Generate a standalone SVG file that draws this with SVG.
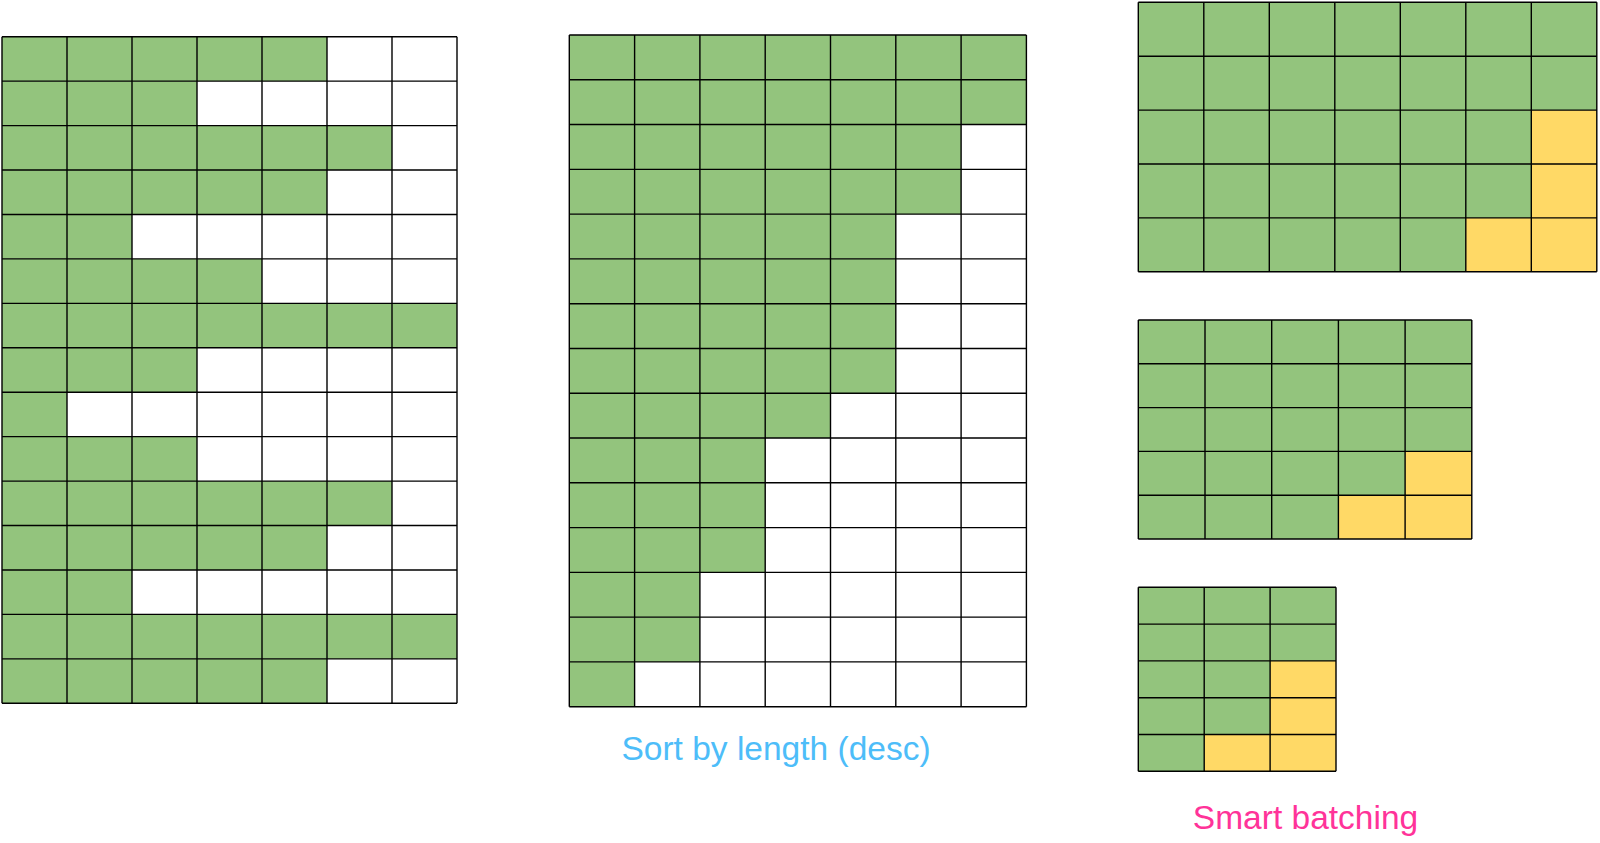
<svg xmlns="http://www.w3.org/2000/svg" width="1600" height="843" viewBox="0 0 1600 843">
<style>
.bg{fill:#ffffff}
.g{fill:#93C47D}
.y{fill:#FFD966}
.ln{fill:none;stroke:#000000;stroke-width:1.4}
.lbl{font-family:"Liberation Sans",Arial,Helvetica,sans-serif;font-size:33.5px;text-anchor:middle}
</style>
<rect width="1600" height="843" fill="#ffffff"/>
<g id="grid-unsorted">
<rect class="bg" x="2" y="36.7" width="455" height="666.6"/>
<rect class="g" x="2" y="36.7" width="325" height="44.44"/>
<rect class="g" x="2" y="81.14" width="195" height="44.44"/>
<rect class="g" x="2" y="125.58" width="390" height="44.44"/>
<rect class="g" x="2" y="170.02" width="325" height="44.44"/>
<rect class="g" x="2" y="214.46" width="130" height="44.44"/>
<rect class="g" x="2" y="258.9" width="260" height="44.44"/>
<rect class="g" x="2" y="303.34" width="455" height="44.44"/>
<rect class="g" x="2" y="347.78" width="195" height="44.44"/>
<rect class="g" x="2" y="392.22" width="65" height="44.44"/>
<rect class="g" x="2" y="436.66" width="195" height="44.44"/>
<rect class="g" x="2" y="481.1" width="390" height="44.44"/>
<rect class="g" x="2" y="525.54" width="325" height="44.44"/>
<rect class="g" x="2" y="569.98" width="130" height="44.44"/>
<rect class="g" x="2" y="614.42" width="455" height="44.44"/>
<rect class="g" x="2" y="658.86" width="325" height="44.44"/>
<path class="ln" d="M2 36.7V703.3M67 36.7V703.3M132 36.7V703.3M197 36.7V703.3M262 36.7V703.3M327 36.7V703.3M392 36.7V703.3M457 36.7V703.3M2 36.7H457M2 81.14H457M2 125.58H457M2 170.02H457M2 214.46H457M2 258.9H457M2 303.34H457M2 347.78H457M2 392.22H457M2 436.66H457M2 481.1H457M2 525.54H457M2 569.98H457M2 614.42H457M2 658.86H457M2 703.3H457"/>
</g>
<g id="grid-sorted">
<rect class="bg" x="569.3" y="35" width="457.1" height="671.7"/>
<rect class="g" x="569.3" y="35" width="457.1" height="44.78"/>
<rect class="g" x="569.3" y="79.78" width="457.1" height="44.78"/>
<rect class="g" x="569.3" y="124.56" width="391.8" height="44.78"/>
<rect class="g" x="569.3" y="169.34" width="391.8" height="44.78"/>
<rect class="g" x="569.3" y="214.12" width="326.5" height="44.78"/>
<rect class="g" x="569.3" y="258.9" width="326.5" height="44.78"/>
<rect class="g" x="569.3" y="303.68" width="326.5" height="44.78"/>
<rect class="g" x="569.3" y="348.46" width="326.5" height="44.78"/>
<rect class="g" x="569.3" y="393.24" width="261.2" height="44.78"/>
<rect class="g" x="569.3" y="438.02" width="195.9" height="44.78"/>
<rect class="g" x="569.3" y="482.8" width="195.9" height="44.78"/>
<rect class="g" x="569.3" y="527.58" width="195.9" height="44.78"/>
<rect class="g" x="569.3" y="572.36" width="130.6" height="44.78"/>
<rect class="g" x="569.3" y="617.14" width="130.6" height="44.78"/>
<rect class="g" x="569.3" y="661.92" width="65.3" height="44.78"/>
<path class="ln" d="M569.3 35V706.7M634.6 35V706.7M699.9 35V706.7M765.2 35V706.7M830.5 35V706.7M895.8 35V706.7M961.1 35V706.7M1026.4 35V706.7M569.3 35H1026.4M569.3 79.78H1026.4M569.3 124.56H1026.4M569.3 169.34H1026.4M569.3 214.12H1026.4M569.3 258.9H1026.4M569.3 303.68H1026.4M569.3 348.46H1026.4M569.3 393.24H1026.4M569.3 438.02H1026.4M569.3 482.8H1026.4M569.3 527.58H1026.4M569.3 572.36H1026.4M569.3 617.14H1026.4M569.3 661.92H1026.4M569.3 706.7H1026.4"/>
</g>
<g id="batch-1">
<rect class="y" x="1138.3" y="2.3" width="458.5" height="269.5"/>
<rect class="g" x="1138.3" y="2.3" width="458.5" height="53.9"/>
<rect class="g" x="1138.3" y="56.2" width="458.5" height="53.9"/>
<rect class="g" x="1138.3" y="110.1" width="393" height="53.9"/>
<rect class="g" x="1138.3" y="164" width="393" height="53.9"/>
<rect class="g" x="1138.3" y="217.9" width="327.5" height="53.9"/>
<path class="ln" d="M1138.3 2.3V271.8M1203.8 2.3V271.8M1269.3 2.3V271.8M1334.8 2.3V271.8M1400.3 2.3V271.8M1465.8 2.3V271.8M1531.3 2.3V271.8M1596.8 2.3V271.8M1138.3 2.3H1596.8M1138.3 56.2H1596.8M1138.3 110.1H1596.8M1138.3 164H1596.8M1138.3 217.9H1596.8M1138.3 271.8H1596.8"/>
</g>
<g id="batch-2">
<rect class="y" x="1138.3" y="320" width="333.5" height="219"/>
<rect class="g" x="1138.3" y="320" width="333.5" height="43.8"/>
<rect class="g" x="1138.3" y="363.8" width="333.5" height="43.8"/>
<rect class="g" x="1138.3" y="407.6" width="333.5" height="43.8"/>
<rect class="g" x="1138.3" y="451.4" width="266.8" height="43.8"/>
<rect class="g" x="1138.3" y="495.2" width="200.1" height="43.8"/>
<path class="ln" d="M1138.3 320V539M1205 320V539M1271.7 320V539M1338.4 320V539M1405.1 320V539M1471.8 320V539M1138.3 320H1471.8M1138.3 363.8H1471.8M1138.3 407.6H1471.8M1138.3 451.4H1471.8M1138.3 495.2H1471.8M1138.3 539H1471.8"/>
</g>
<g id="batch-3">
<rect class="y" x="1138.3" y="587.3" width="197.7" height="184"/>
<rect class="g" x="1138.3" y="587.3" width="197.7" height="36.8"/>
<rect class="g" x="1138.3" y="624.1" width="197.7" height="36.8"/>
<rect class="g" x="1138.3" y="660.9" width="131.8" height="36.8"/>
<rect class="g" x="1138.3" y="697.7" width="131.8" height="36.8"/>
<rect class="g" x="1138.3" y="734.5" width="65.9" height="36.8"/>
<path class="ln" d="M1138.3 587.3V771.3M1204.2 587.3V771.3M1270.1 587.3V771.3M1336 587.3V771.3M1138.3 587.3H1336M1138.3 624.1H1336M1138.3 660.9H1336M1138.3 697.7H1336M1138.3 734.5H1336M1138.3 771.3H1336"/>
</g>
<g id="labels">
<text id="label-sort" class="lbl" x="776" y="760" fill="#4DBDF9">Sort by length (desc)</text>
<text id="label-smart" class="lbl" x="1305.5" y="829" fill="#FF3399">Smart batching</text>
</g>
</svg>
